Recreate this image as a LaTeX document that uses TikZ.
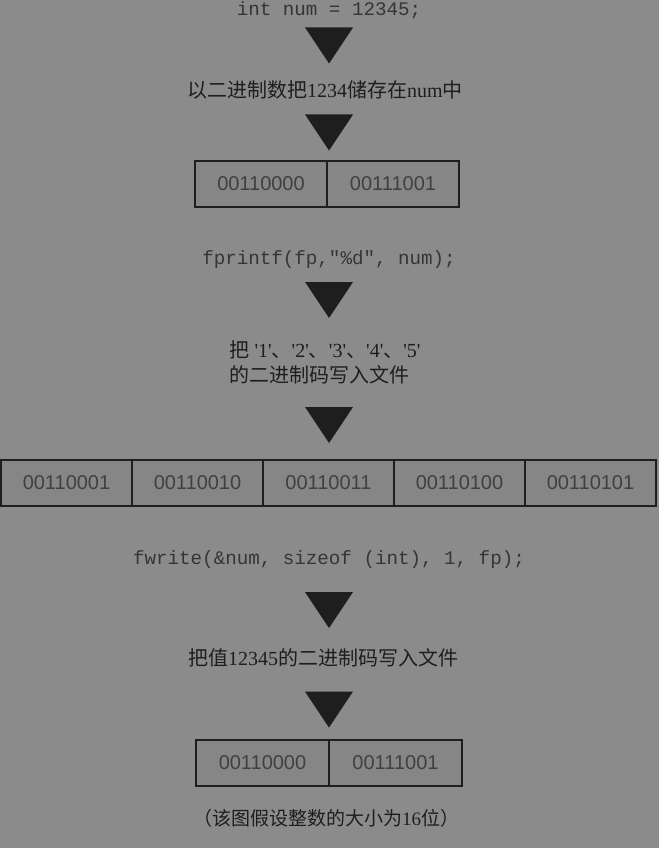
\documentclass[tikz,border=0pt]{standalone}
\usepackage{fontspec}
\setmainfont{Liberation Serif}
\setsansfont{Liberation Sans}
\setmonofont{Liberation Mono}
\newfontfamily\cjk{Noto Sans CJK SC}
\usepackage{tikz}
\usetikzlibrary{positioning}

\definecolor{bggray}{HTML}{8B8B8B}
\definecolor{cellgray}{HTML}{868686}
\definecolor{inkgray}{HTML}{1E1E1E}

\begin{document}
\begin{tikzpicture}[x=1pt,y=1pt]
    \tikzstyle{code line}=[text=inkgray!90,font=\ttfamily\fontsize{19.2}{22}\selectfont]
    \tikzstyle{cn line}=[text=inkgray,font=\fontsize{20}{25}\selectfont]
    \tikzstyle{byte cell}=[draw=inkgray,line width=2pt,fill=cellgray,outer sep=0pt,
        minimum height=46,text=inkgray!85,font=\sffamily\fontsize{20}{22}\selectfont]
    \tikzstyle{down tri}=[fill=inkgray]

    \fill[bggray] (0,0) rectangle (659,-848);
    \useasboundingbox (0,0) rectangle (659,-848);

    \node(code1)[code line] at (329,-10) {int num = 12345;};
    \node(store)[cn line] at (325,-90) {{\cjk 以二进制数把}1234{\cjk 储存在}num{\cjk 中}};

    \node(b1a)[byte cell,minimum width=132] at (261,-184) {00110000};
    \node(b1b)[byte cell,minimum width=132,right=0pt of b1a] {00111001};

    \node(code2)[code line] at (329,-260) {fprintf(fp,"\%d", num);};
    \node(chars)[cn line,align=left,anchor=west] at (226,-362)
        {{\cjk 把} \textquotesingle1\textquotesingle{\cjk 、}\textquotesingle2\textquotesingle{\cjk 、}\textquotesingle3\textquotesingle{\cjk 、}\textquotesingle4\textquotesingle{\cjk 、}\textquotesingle5\textquotesingle\\
         {\cjk 的二进制码写入文件}};

    \node(r1)[byte cell,minimum width=131,anchor=west] at (1,-483) {00110001};
    \node(r2)[byte cell,minimum width=131,right=0pt of r1] {00110010};
    \node(r3)[byte cell,minimum width=131,right=0pt of r2] {00110011};
    \node(r4)[byte cell,minimum width=131,right=0pt of r3] {00110100};
    \node(r5)[byte cell,minimum width=131,right=0pt of r4] {00110101};

    \node(code3)[code line] at (329,-560) {fwrite(\&num, sizeof (int), 1, fp);};
    \node(value)[cn line] at (323,-658) {{\cjk 把值}12345{\cjk 的二进制码写入文件}};

    \node(b2a)[byte cell,minimum width=133] at (262.5,-763) {00110000};
    \node(b2b)[byte cell,minimum width=133,right=0pt of b2a] {00111001};

    \node(note)[cn line,font=\fontsize{19}{24}\selectfont] at (326,-818) {{\cjk （该图假设整数的大小为}16{\cjk 位）}};

    \foreach \n/\y in {1/45.5,2/132.5,3/300,4/425,5/610,6/709.5}{
        \coordinate (t\n) at (329,-\y);
        \fill[down tri] (t\n) +(-24,18) -- +(24,18) -- +(0,-18) -- cycle;
    }
\end{tikzpicture}
\end{document}
